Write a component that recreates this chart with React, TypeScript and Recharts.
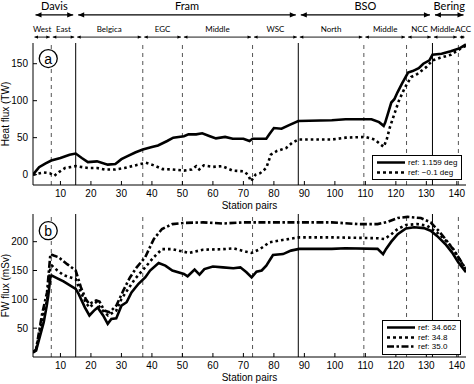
import React from "react"
import {
  LineChart,
  Line,
  XAxis,
  YAxis,
  ReferenceLine,
  ReferenceDot,
} from "recharts"

// station-pair axis
const xTicks = [10, 20, 30, 40, 50, 60, 70, 80, 90, 100, 110, 120, 130, 140]
const heatTicks = [0, 50, 100, 150]
const fwTicks = [50, 100, 150, 200]

// section boundaries (station pairs)
const solidBounds = [15, 88, 132]
const dashedBounds = [7, 37, 50, 73, 109.5, 123.5, 140.5]

const regionNames = ["Davis", "Fram", "BSO", "Bering"]
const regionSpans = [[1, 15], [15, 88], [88, 132], [132, 143]]
const subNames = ["West", "East", "Belgica", "EGC", "Middle", "WSC", "North", "Middle", "NCC", "Middle", "ACC"]
const subSpans = [
  [1, 7], [7, 15], [15, 37], [37, 50], [50, 73], [73, 88],
  [88, 109.5], [109.5, 123.5], [123.5, 132], [132, 140.5], [140.5, 143],
]
const subLabelDx = [0, 0, 0, 0, 0, 0, 0, 0, 0, -3, 1]

// (a) heat flux, ref 1.159 deg
const heatWarmX = [1, 3, 5, 7, 10, 13, 15, 17, 19, 22, 25.5, 28, 30, 32, 34.5, 37, 40, 42, 45, 47, 50.5, 52, 54.5, 56.5, 59, 61, 64, 66.5, 70, 72, 73, 77.5, 78.5, 80, 82.5, 85, 88, 99, 103.5, 112, 114.5, 116, 116.5, 117.5, 118.5, 119.5, 120.5, 122, 124, 125.5, 127.5, 129, 131, 132, 135, 138, 141, 143]
const heatWarmY = [0, 10, 15, 19, 22.5, 27, 28.5, 22.5, 17, 18, 13.5, 14.5, 21, 25, 30, 34, 37.5, 39.5, 45.5, 50, 52, 54.5, 54.5, 56, 52, 49, 51, 48.5, 48.5, 45.5, 48.5, 48.5, 54.5, 63, 62, 67, 72.5, 73.5, 75, 75, 71, 66, 70.5, 84, 97.5, 102, 111, 123, 138, 140, 144, 150, 154.5, 162, 163.5, 167, 171, 176]

// (a) heat flux, ref -0.1 deg
const heatColdX = [1, 4.5, 6.5, 8, 9.5, 11.5, 15, 19, 22, 24.5, 28, 31, 34.5, 38, 40, 43.5, 46.5, 50.5, 53, 54.5, 55.5, 57, 60, 63, 66.5, 70, 71.5, 72.5, 74, 75.5, 77.5, 79, 81, 84, 86, 88, 99, 103.5, 110, 113, 116, 117, 118, 119.5, 121, 123, 125, 127, 130, 132, 134.5, 138, 142, 143]
const heatColdY = [0, 3, 2, -1.5, 3.5, 9, 11.5, 9, 9, 7, 7, 9, 12.5, 16, 13.5, 7.5, 7, 5.5, 7, 11.5, 7, 12.5, 10.5, 11.5, 5.5, 4.5, 0, -9, 0, 2, 9, 27, 32, 36, 43, 47.5, 47.5, 50, 51, 47.5, 37.5, 47.5, 63.5, 82, 100, 118, 132, 136, 145.5, 154.5, 158, 162, 172.5, 174]

// (b) FW flux, ref 34.662
const fwAX = [1, 2, 4.5, 5.5, 6, 6.7, 7.2, 9, 11, 15, 16, 18, 19.5, 21, 22.2, 24, 25.5, 26.7, 28.3, 30, 31.7, 33.3, 35.6, 37.8, 39.4, 42.2, 44.4, 46.7, 50.5, 51.7, 54, 55.6, 57.2, 60, 63.3, 66.7, 69, 71, 72.7, 74.3, 76, 77.5, 79.7, 83, 85.6, 88.3, 99, 103.4, 114, 115.8, 116.8, 118.5, 120.6, 123.3, 126, 129.2, 131.4, 133.5, 136.2, 138.4, 140.5, 143]
const fwAY = [8, 11, 60, 89, 106, 138, 141, 136.5, 131, 118, 109, 86, 72, 80.5, 86, 72, 57.5, 66, 67, 89, 95, 112, 127, 138, 150, 163, 158.5, 150, 144, 140, 151.5, 143, 152.5, 157, 155.5, 154, 155.5, 147, 138, 148, 150, 158.5, 177, 178.5, 184.5, 187.5, 187.5, 188.5, 187.5, 178.5, 187.5, 200, 213, 223, 225, 223.5, 219, 210, 196, 181.5, 164, 147]

// (b) FW flux, ref 34.8
const fwBX = [1, 2, 4, 5.6, 6.7, 7.2, 9, 11, 15, 16.7, 18.3, 19.4, 21.7, 23.3, 25.6, 28.3, 30, 32.2, 34.4, 37.8, 40.6, 43.3, 46.7, 50.5, 52.2, 56.7, 63.3, 66.8, 71, 72.7, 75.4, 78.6, 82.9, 88.3, 99, 114, 116.3, 118.5, 120.6, 123.3, 127, 130.3, 133.5, 136.8, 139, 141, 143]
const fwBY = [8, 12, 65, 98, 155.5, 158.5, 150, 142, 135, 112, 95, 86, 95, 83.5, 72, 80.5, 100.5, 118, 135, 155.5, 173, 187, 187, 182.5, 180.5, 186, 187, 188.5, 182.5, 180.5, 187, 199, 203, 207.5, 207.5, 206, 204.5, 213, 222, 229, 230.5, 227.5, 216, 200, 186, 168, 151]

// (b) FW flux, ref 35.0
const fwCX = [1, 2, 4, 5.6, 6.7, 7.8, 9.4, 12.2, 15, 16.7, 18.3, 19.4, 21.7, 22.8, 24.4, 26.1, 28.3, 30.6, 32.8, 35, 37.8, 40.6, 43.3, 46.7, 50.5, 56.7, 63.3, 70, 99, 107.7, 114, 117.4, 120.6, 123.8, 128.2, 131.4, 134, 136.5, 139, 141, 143]
const fwCY = [8, 13, 75, 112, 178.5, 176, 173, 161, 150, 121, 100.5, 92, 98, 96, 80.5, 77.5, 89, 115, 138, 155.5, 173, 204.5, 222, 230.5, 232.5, 233.5, 231.5, 233.5, 233.5, 230.5, 230.5, 234.5, 241, 243, 241, 233.5, 219, 203, 185, 169, 152]

const zip = (xs: number[], ys: number[]) => xs.map((x, i) => ({ x, y: ys[i] }))

const font = '"Liberation Sans", Arial, Helvetica, sans-serif'
const headerFont = 'Lato, "Open Sans", sans-serif'
const tickStyle = { fill: "#000", fontSize: 10 }

function makeArrow(text: string, big: boolean, dx = 0) {
  return (p: any) => {
    const inset = big ? 2.5 : 1.5
    const xa = p.x1 + inset
    const xb = p.x2 - inset
    const y = p.y1
    const h = big ? 6 : 3.5
    const w = big ? 2.6 : 1.6
    return (
      <g>
        <line x1={xa} y1={y} x2={xb} y2={y} stroke="#000" strokeWidth={big ? 1.4 : 0.9} />
        <path d={`M${xa},${y} l${h},${-w} v${2 * w} Z`} fill="#000" />
        <path d={`M${xb},${y} l${-h},${-w} v${2 * w} Z`} fill="#000" />
        <text
          x={(xa + xb) / 2 + dx}
          y={y - (big ? 4.5 : 5)}
          textAnchor="middle"
          fontSize={big ? 11 : 8}
          fill="#000"
          fontFamily={headerFont}
        >
          {text}
        </text>
      </g>
    )
  }
}

function boundaryLines() {
  return [
    ...dashedBounds.map((v) => (
      <ReferenceLine key={"d" + v} x={v} stroke="#555" strokeDasharray="4 4" strokeWidth={1} />
    )),
    ...solidBounds.map((v) => (
      <ReferenceLine key={"s" + v} x={v} stroke="#000" strokeWidth={1} />
    )),
  ]
}

function frameAxes(domain: number[], yTicks: number[]) {
  return [
    <XAxis
      key="top"
      xAxisId="top"
      orientation="top"
      type="number"
      dataKey="x"
      domain={[1, 143]}
      ticks={xTicks}
      tick={false}
      tickSize={-4}
      height={0}
      stroke="#000"
      allowDataOverflow
    />,
    <YAxis
      key="right"
      yAxisId="right"
      orientation="right"
      type="number"
      domain={domain}
      ticks={yTicks}
      tick={false}
      tickSize={-4}
      width={0}
      stroke="#000"
      allowDataOverflow
    />,
  ]
}

function LegendBox({ left, top, items }: { left: number; top: number; items: { label: string; dash?: string }[] }) {
  return (
    <div
      style={{
        position: "absolute",
        left,
        top,
        background: "#fff",
        border: "1px solid #000",
        padding: "2px 4px 2px 4px",
        fontSize: 8,
        lineHeight: "9.5px",
      }}
    >
      {items.map((it) => (
        <div key={it.label} style={{ display: "flex", alignItems: "center" }}>
          <svg width={28} height={9} style={{ marginRight: 3 }}>
            <line x1={0} y1={4.5} x2={28} y2={4.5} stroke="#000" strokeWidth={2.5} strokeDasharray={it.dash} />
          </svg>
          <span>{it.label}</span>
        </div>
      ))}
    </div>
  )
}

const heatDomain = [-14, 178]
const fwDomain = [0, 248]

export default function App() {
  return (
    <div
      style={{
        position: "fixed",
        left: 0,
        top: 0,
        width: 474,
        height: 384,
        background: "#fff",
        fontFamily: font,
        overflow: "hidden",
      }}
    >
      <div style={{ position: "absolute", left: 0, top: 0 }}>
        <LineChart width={474} height={212} margin={{ top: 43, right: 8, bottom: 0, left: 0 }}>
          <XAxis
            type="number"
            dataKey="x"
            domain={[1, 143]}
            ticks={xTicks}
            tickSize={-4}
            tickMargin={9}
            tick={tickStyle}
            height={27}
            stroke="#000"
            allowDataOverflow
            label={{ value: "Station pairs", position: "insideBottom", offset: 3, fontSize: 10, fill: "#000" }}
          />
          <YAxis
            type="number"
            domain={heatDomain}
            ticks={heatTicks}
            tickSize={-4}
            tickMargin={9}
            tick={tickStyle}
            width={33}
            stroke="#000"
            allowDataOverflow
            label={{ value: "Heat flux (TW)", angle: -90, position: "center", dx: -11, fontSize: 10, fill: "#000" }}
          />
          {frameAxes(heatDomain, heatTicks)}
          {boundaryLines()}
          {regionNames.map((n, i) => (
            <ReferenceLine
              key={"r" + i}
              ifOverflow="visible"
              segment={[{ x: regionSpans[i][0], y: 216 }, { x: regionSpans[i][1], y: 216 }]}
              shape={makeArrow(n, true)}
            />
          ))}
          {subNames.map((n, i) => (
            <ReferenceLine
              key={"sub" + i}
              ifOverflow="visible"
              segment={[{ x: subSpans[i][0], y: 186 }, { x: subSpans[i][1], y: 186 }]}
              shape={makeArrow(n, false, subLabelDx[i])}
            />
          ))}
          <Line
            data={zip(heatColdX, heatColdY)}
            dataKey="y"
            type="linear"
            dot={false}
            stroke="#000"
            strokeWidth={2.6}
            strokeDasharray="2.6 3"
            isAnimationActive={false}
          />
          <Line
            data={zip(heatWarmX, heatWarmY)}
            dataKey="y"
            type="linear"
            dot={false}
            stroke="#000"
            strokeWidth={2.6}
            isAnimationActive={false}
          />
          <ReferenceDot
            x={6}
            y={157}
            r={9}
            fill="#fff"
            stroke="#000"
            strokeWidth={1.3}
            ifOverflow="visible"
            label={{ value: "a", position: "center", fontSize: 14, fill: "#000" }}
          />
        </LineChart>
      </div>
      <div style={{ position: "absolute", left: 0, top: 212 }}>
        <LineChart width={474} height={172} margin={{ top: 2, right: 8, bottom: 0, left: 0 }}>
          <XAxis
            type="number"
            dataKey="x"
            domain={[1, 143]}
            ticks={xTicks}
            tickSize={-4}
            tickMargin={9}
            tick={tickStyle}
            height={27}
            stroke="#000"
            allowDataOverflow
            label={{ value: "Station pairs", position: "insideBottom", offset: 3, fontSize: 10, fill: "#000" }}
          />
          <YAxis
            type="number"
            domain={fwDomain}
            ticks={fwTicks}
            tickSize={-4}
            tickMargin={9}
            tick={tickStyle}
            width={33}
            stroke="#000"
            allowDataOverflow
            label={{ value: "FW flux (mSv)", angle: -90, position: "center", dx: -11, fontSize: 10, fill: "#000" }}
          />
          {frameAxes(fwDomain, fwTicks)}
          {boundaryLines()}
          <Line
            data={zip(fwCX, fwCY)}
            dataKey="y"
            type="linear"
            dot={false}
            stroke="#000"
            strokeWidth={2.6}
            strokeDasharray="7 2.5 2.5 2.5"
            isAnimationActive={false}
          />
          <Line
            data={zip(fwBX, fwBY)}
            dataKey="y"
            type="linear"
            dot={false}
            stroke="#000"
            strokeWidth={2.6}
            strokeDasharray="2.6 3"
            isAnimationActive={false}
          />
          <Line
            data={zip(fwAX, fwAY)}
            dataKey="y"
            type="linear"
            dot={false}
            stroke="#000"
            strokeWidth={2.6}
            isAnimationActive={false}
          />
          <ReferenceDot
            x={6}
            y={219}
            r={9}
            fill="#fff"
            stroke="#000"
            strokeWidth={1.3}
            ifOverflow="visible"
            label={{ value: "b", position: "center", fontSize: 14, fill: "#000" }}
          />
        </LineChart>
      </div>
      <LegendBox
        left={372}
        top={155}
        items={[
          { label: "ref: 1.159 deg" },
          { label: "ref: \u22120.1 deg", dash: "3 3" },
        ]}
      />
      <LegendBox
        left={382}
        top={320}
        items={[
          { label: "ref: 34.662" },
          { label: "ref: 34.8", dash: "3 3" },
          { label: "ref: 35.0", dash: "7 2.5 2.5 2.5" },
        ]}
      />
    </div>
  )
}
